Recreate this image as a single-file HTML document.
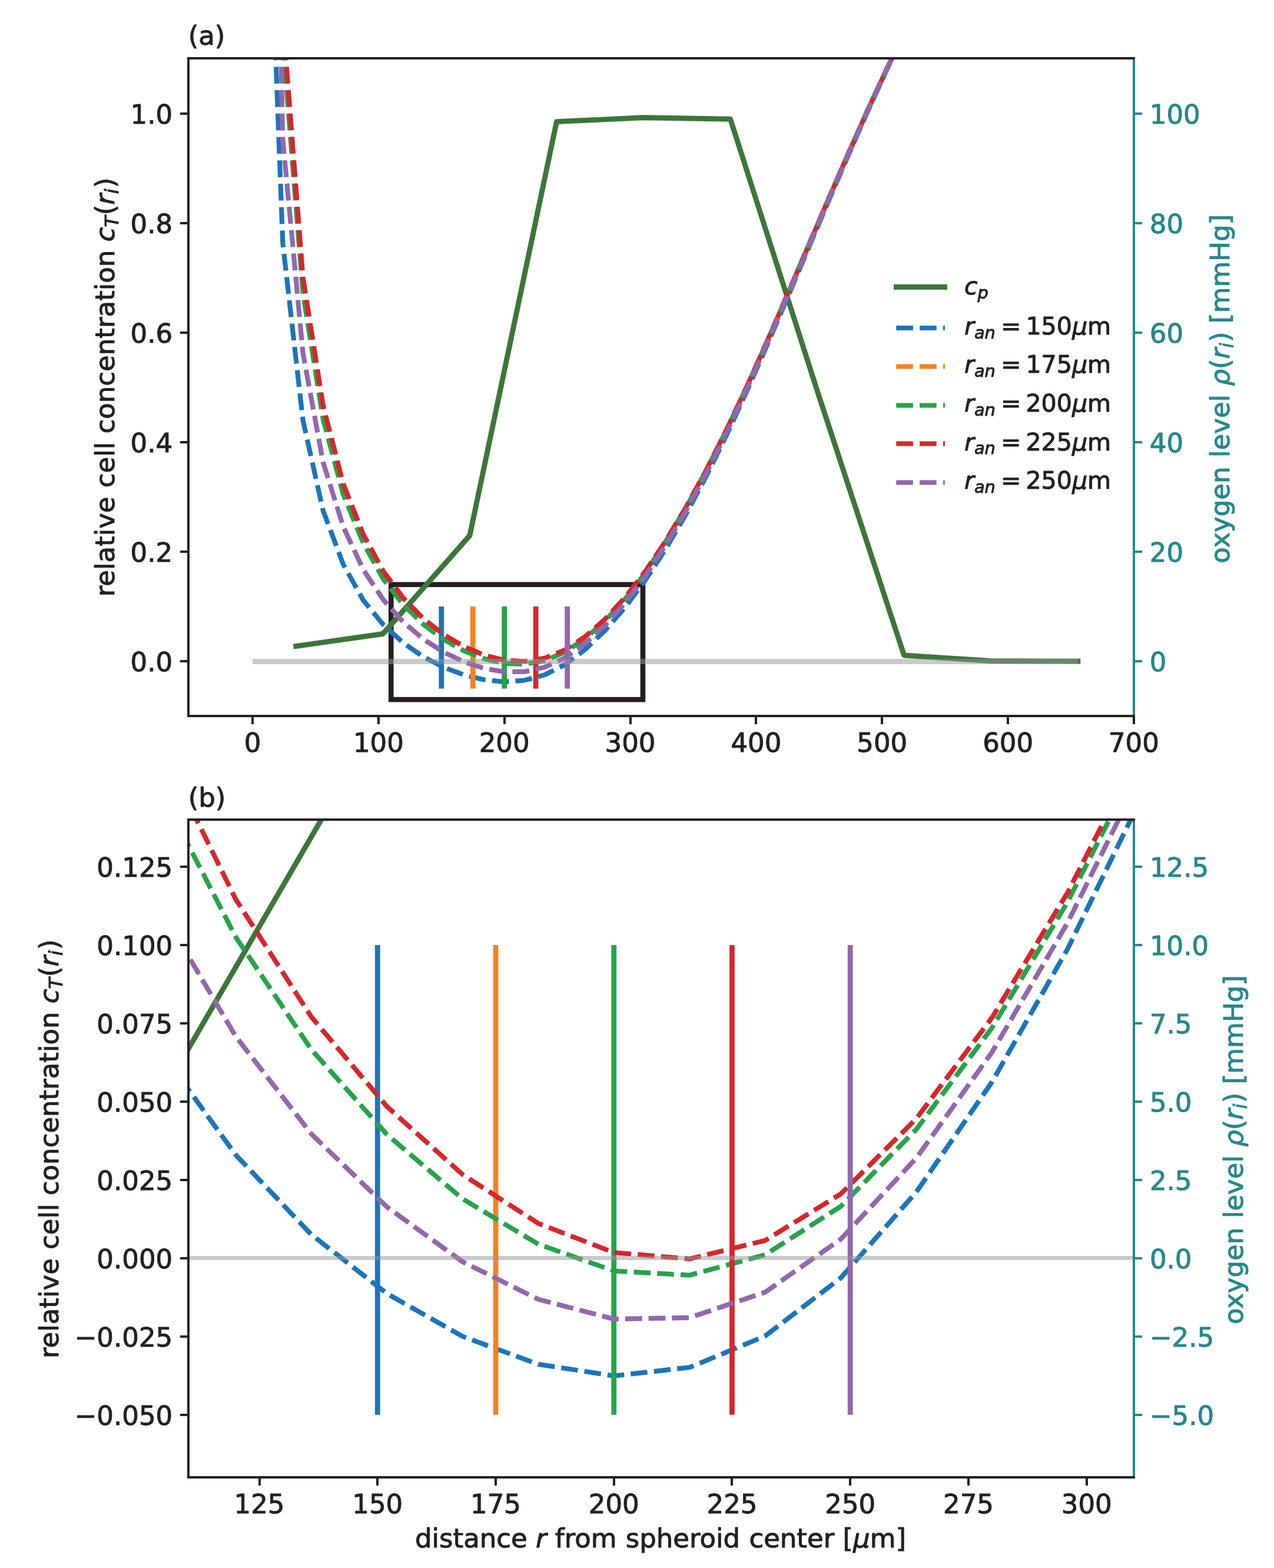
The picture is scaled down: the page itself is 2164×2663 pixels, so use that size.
<!DOCTYPE html>
<html lang="en"><head><meta charset="utf-8"><title>Oxygen level and cell concentration in a spheroid</title>
<style>html,body{margin:0;padding:0;background:#fff}body{width:2164px;height:2663px;overflow:hidden}svg{display:block}text{font-family:"DejaVu Sans","Liberation Sans",sans-serif;white-space:pre;stroke-width:1;stroke-linejoin:round}</style></head><body>
<svg width="2164" height="2663" viewBox="0 0 2164 2663" role="img" aria-label="Oxygen level and relative cell concentration versus distance from spheroid center">
<rect width="2164" height="2663" fill="#ffffff"/>
<clipPath id="clipa"><rect x="320.1" y="98.9" width="1605.85" height="1117.1"/></clipPath>
<g clip-path="url(#clipa)">
<rect x="664.24" y="992.8" width="427.7" height="195.3" fill="none" stroke="#231f20" stroke-width="8.6" stroke-linejoin="miter"/>
<path d="M502.78 1097.42 L650.33 1076.5 L797.89 909.57 L945.45 206.67 L1093 199.7 L1240.56 202.21 L1388.12 663.58 L1535.67 1112.96 L1683.23 1122.54 L1830.79 1123" fill="none" stroke="#3c763a" stroke-width="8.9" stroke-linecap="square" stroke-linejoin="round"/>
<path d="M464.49 -4.5 L480.32 412.65 L514.54 713.6 L548.76 867.12 L582.97 958.3 L617.19 1019.7 L651.4 1061.28 L685.62 1092.32 L719.84 1116 L754.05 1133.52 L788.27 1146.24 L822.48 1154.51 L856.7 1157.96 L890.92 1155.44 L925.13 1146.12 L959.35 1128.85 L993.56 1103.31 L1027.78 1070.65 L1062 1031.11 L1096.21 985.06 L1130.43 932.72 L1164.64 874.23 L1198.86 810.15 L1233.08 741.05 L1267.29 667.11 L1301.51 589.64 L1335.72 510.04 L1369.94 429.41 L1404.16 348.96 L1438.37 269.54 L1472.59 192.07 L1506.8 117.3 L1541.02 46.15 L1566.9 -4.5" fill="none" stroke="#1b75bb" stroke-width="8.15" stroke-linecap="butt" stroke-linejoin="round" stroke-dasharray="28.55 11.2" stroke-dashoffset="1.19"/>
<line x1="749.78" y1="1030" x2="749.78" y2="1169.5" stroke="#1b75bb" stroke-width="8.8" stroke-linecap="butt"/>
<path d="M475.09 -4.5 L480.32 236.37 L514.54 599.5 L548.76 784.89 L582.97 894.4 L617.19 967.62 L651.4 1019.08 L685.62 1057.13 L719.84 1086.11 L754.05 1107.81 L788.27 1124.07 L822.48 1135.21 L856.7 1141.08 L890.92 1140.67 L925.13 1133.11 L959.35 1117.35 L993.56 1093.25 L1027.78 1061.81 L1062 1023.32 L1096.21 977.96 L1130.43 926.21 L1164.64 868.55 L1198.86 805.22 L1233.08 736.68 L1267.29 663.39 L1301.51 586.48 L1335.72 507.25 L1369.94 427.17 L1404.16 347.1 L1438.37 268.05 L1472.59 190.95 L1506.8 116.55 L1541.02 45.78 L1566.82 -4.5" fill="none" stroke="#f58220" stroke-width="6.95" stroke-linecap="butt" stroke-linejoin="round" stroke-dasharray="28.55 11.2" stroke-dashoffset="1.26"/>
<line x1="803.24" y1="1030" x2="803.24" y2="1169.5" stroke="#f58220" stroke-width="8.8" stroke-linecap="butt"/>
<path d="M477.43 -4.5 L480.32 69.84 L514.54 497.68 L548.76 711.65 L582.97 839.51 L617.19 922.51 L651.4 984.01 L685.62 1027.65 L719.84 1061.06 L754.05 1086.3 L788.27 1105.39 L822.48 1118.83 L856.7 1126.79 L890.92 1128.06 L925.13 1121.98 L959.35 1107.61 L993.56 1084.72 L1027.78 1054.57 L1062 1017.16 L1096.21 972.82 L1130.43 920.26 L1164.64 863.16 L1198.86 800.38 L1233.08 732.4 L1267.29 659.49 L1301.51 583.04 L1335.72 504.27 L1369.94 424.48 L1404.16 344.78 L1438.37 266.1 L1472.59 189.28 L1506.8 115.16 L1541.02 44.66 L1566.32 -4.5" fill="none" stroke="#26a349" stroke-width="8.15" stroke-linecap="butt" stroke-linejoin="round" stroke-dasharray="28.55 11.2" stroke-dashoffset="0.98"/>
<line x1="856.7" y1="1030" x2="856.7" y2="1169.5" stroke="#26a349" stroke-width="8.8" stroke-linecap="butt"/>
<path d="M479.85 -4.5 L480.32 31.31 L514.54 470.53 L548.76 688.53 L582.97 821.4 L617.19 907.65 L651.4 970.64 L685.62 1016.42 L719.84 1051.34 L754.05 1077.98 L788.27 1098.17 L822.48 1112.67 L856.7 1121.33 L890.92 1123.22 L925.13 1117.74 L959.35 1103.92 L993.56 1081.52 L1027.78 1051.52 L1062 1014.37 L1096.21 970.32 L1130.43 919.05 L1164.64 862.23 L1198.86 799.73 L1233.08 731.93 L1267.29 659.3 L1301.51 583.04 L1335.72 504.46 L1369.94 424.85 L1404.16 345.33 L1438.37 266.75 L1472.59 190.12 L1506.8 116.18 L1541.02 45.78 L1566.93 -4.5" fill="none" stroke="#d7262c" stroke-width="8.15" stroke-linecap="butt" stroke-linejoin="round" stroke-dasharray="28.55 11.2" stroke-dashoffset="0.93"/>
<line x1="910.16" y1="1030" x2="910.16" y2="1169.5" stroke="#d7262c" stroke-width="8.8" stroke-linecap="butt"/>
<path d="M475.09 -4.5 L480.32 236.37 L514.54 599.5 L548.76 784.89 L582.97 894.4 L617.19 967.62 L651.4 1019.08 L685.62 1057.13 L719.84 1086.11 L754.05 1107.81 L788.27 1124.07 L822.48 1135.21 L856.7 1141.08 L890.92 1140.67 L925.13 1133.11 L959.35 1117.35 L993.56 1093.25 L1027.78 1061.81 L1062 1023.32 L1096.21 977.96 L1130.43 926.21 L1164.64 868.55 L1198.86 805.22 L1233.08 736.68 L1267.29 663.39 L1301.51 586.48 L1335.72 507.25 L1369.94 427.17 L1404.16 347.1 L1438.37 268.05 L1472.59 190.95 L1506.8 116.55 L1541.02 45.78 L1566.82 -4.5" fill="none" stroke="#9267ae" stroke-width="8.15" stroke-linecap="butt" stroke-linejoin="round" stroke-dasharray="28.55 11.2" stroke-dashoffset="1.26"/>
<line x1="963.62" y1="1030" x2="963.62" y2="1169.5" stroke="#9267ae" stroke-width="8.8" stroke-linecap="butt"/>
<line x1="429" y1="1123.5" x2="1830.79" y2="1123.5" stroke="#939598" stroke-width="9" stroke-linecap="butt" stroke-opacity="0.5"/>
</g>
<line x1="429" y1="1216" x2="429" y2="1230" stroke="#231f20" stroke-width="4" stroke-linecap="butt"/>
<text x="429" y="1277.2" font-size="45" text-anchor="middle" fill="#231f20" stroke="#231f20">0</text>
<line x1="643" y1="1216" x2="643" y2="1230" stroke="#231f20" stroke-width="4" stroke-linecap="butt"/>
<text x="642.85" y="1277.2" font-size="45" text-anchor="middle" fill="#231f20" stroke="#231f20">100</text>
<line x1="857" y1="1216" x2="857" y2="1230" stroke="#231f20" stroke-width="4" stroke-linecap="butt"/>
<text x="856.7" y="1277.2" font-size="45" text-anchor="middle" fill="#231f20" stroke="#231f20">200</text>
<line x1="1071" y1="1216" x2="1071" y2="1230" stroke="#231f20" stroke-width="4" stroke-linecap="butt"/>
<text x="1070.55" y="1277.2" font-size="45" text-anchor="middle" fill="#231f20" stroke="#231f20">300</text>
<line x1="1284" y1="1216" x2="1284" y2="1230" stroke="#231f20" stroke-width="4" stroke-linecap="butt"/>
<text x="1284.4" y="1277.2" font-size="45" text-anchor="middle" fill="#231f20" stroke="#231f20">400</text>
<line x1="1498" y1="1216" x2="1498" y2="1230" stroke="#231f20" stroke-width="4" stroke-linecap="butt"/>
<text x="1498.25" y="1277.2" font-size="45" text-anchor="middle" fill="#231f20" stroke="#231f20">500</text>
<line x1="1712" y1="1216" x2="1712" y2="1230" stroke="#231f20" stroke-width="4" stroke-linecap="butt"/>
<text x="1712.1" y="1277.2" font-size="45" text-anchor="middle" fill="#231f20" stroke="#231f20">600</text>
<line x1="1926" y1="1216" x2="1926" y2="1230" stroke="#231f20" stroke-width="4" stroke-linecap="butt"/>
<text x="1925.95" y="1277.2" font-size="45" text-anchor="middle" fill="#231f20" stroke="#231f20">700</text>
<line x1="320" y1="1123" x2="306" y2="1123" stroke="#231f20" stroke-width="4" stroke-linecap="butt"/>
<text x="293.2" y="1140.3" font-size="45" text-anchor="end" fill="#231f20" stroke="#231f20">0.0</text>
<line x1="320" y1="937" x2="306" y2="937" stroke="#231f20" stroke-width="4" stroke-linecap="butt"/>
<text x="293.2" y="954.3" font-size="45" text-anchor="end" fill="#231f20" stroke="#231f20">0.2</text>
<line x1="320" y1="751" x2="306" y2="751" stroke="#231f20" stroke-width="4" stroke-linecap="butt"/>
<text x="293.2" y="768.3" font-size="45" text-anchor="end" fill="#231f20" stroke="#231f20">0.4</text>
<line x1="320" y1="565" x2="306" y2="565" stroke="#231f20" stroke-width="4" stroke-linecap="butt"/>
<text x="293.2" y="582.3" font-size="45" text-anchor="end" fill="#231f20" stroke="#231f20">0.6</text>
<line x1="320" y1="379" x2="306" y2="379" stroke="#231f20" stroke-width="4" stroke-linecap="butt"/>
<text x="293.2" y="396.3" font-size="45" text-anchor="end" fill="#231f20" stroke="#231f20">0.8</text>
<line x1="320" y1="193" x2="306" y2="193" stroke="#231f20" stroke-width="4" stroke-linecap="butt"/>
<text x="293.2" y="210.3" font-size="45" text-anchor="end" fill="#231f20" stroke="#231f20">1.0</text>
<line x1="1926" y1="1123" x2="1940" y2="1123" stroke="#26878b" stroke-width="4" stroke-linecap="butt"/>
<text x="1952.85" y="1140.3" font-size="45" text-anchor="start" fill="#26878b" stroke="#26878b">0</text>
<line x1="1926" y1="937" x2="1940" y2="937" stroke="#26878b" stroke-width="4" stroke-linecap="butt"/>
<text x="1952.85" y="954.3" font-size="45" text-anchor="start" fill="#26878b" stroke="#26878b">20</text>
<line x1="1926" y1="751" x2="1940" y2="751" stroke="#26878b" stroke-width="4" stroke-linecap="butt"/>
<text x="1952.85" y="768.3" font-size="45" text-anchor="start" fill="#26878b" stroke="#26878b">40</text>
<line x1="1926" y1="565" x2="1940" y2="565" stroke="#26878b" stroke-width="4" stroke-linecap="butt"/>
<text x="1952.85" y="582.3" font-size="45" text-anchor="start" fill="#26878b" stroke="#26878b">60</text>
<line x1="1926" y1="379" x2="1940" y2="379" stroke="#26878b" stroke-width="4" stroke-linecap="butt"/>
<text x="1952.85" y="396.3" font-size="45" text-anchor="start" fill="#26878b" stroke="#26878b">80</text>
<line x1="1926" y1="193" x2="1940" y2="193" stroke="#26878b" stroke-width="4" stroke-linecap="butt"/>
<text x="1952.85" y="210.3" font-size="45" text-anchor="start" fill="#26878b" stroke="#26878b">100</text>
<line x1="320" y1="1218" x2="320" y2="97" stroke="#231f20" stroke-width="4" stroke-linecap="butt"/>
<line x1="1926" y1="1218" x2="1926" y2="97" stroke="#26878b" stroke-width="4" stroke-linecap="butt"/>
<line x1="318" y1="1216" x2="1928" y2="1216" stroke="#231f20" stroke-width="4" stroke-linecap="butt"/>
<line x1="318" y1="99" x2="1928" y2="99" stroke="#231f20" stroke-width="4" stroke-linecap="butt"/>
<clipPath id="clipb"><rect x="320.1" y="1392.2" width="1605.9" height="1116.9"/></clipPath>
<g clip-path="url(#clipb)">
<path d="M-286.13 1990.54 L267.91 1870.87 L821.94 916.18 L1375.98 -3103.62 L1930.01 -3143.51 L2484.05 -3129.15 L3038.09 -490.59 L3592.12 2079.36 L4146.16 2134.14 L4700.19 2136.8" fill="none" stroke="#3c763a" stroke-width="8.9" stroke-linecap="square" stroke-linejoin="round"/>
<path d="M-1 1130.02 L14.98 1194.87 L143.45 1546.02 L271.92 1783.85 L400.4 1961.35 L528.87 2096.79 L657.34 2196.98 L785.81 2269.7 L914.28 2317 L1042.76 2336.71 L1171.23 2322.31 L1299.7 2269.02 L1428.17 2170.27 L1556.64 2024.21 L1685.12 1837.39 L1813.59 1611.3 L1942.06 1347.91 L2070.53 1048.61 L2170 789.6" fill="none" stroke="#1b75bb" stroke-width="8.15" stroke-linecap="butt" stroke-linejoin="round" stroke-dasharray="28.55 11.2" stroke-dashoffset="26.06"/>
<line x1="641.28" y1="1604.94" x2="641.28" y2="2402.73" stroke="#1b75bb" stroke-width="8.8" stroke-linecap="butt"/>
<path d="M-1 751.58 L14.98 829.47 L143.45 1248.21 L271.92 1542.5 L400.4 1760.11 L528.87 1925.81 L657.34 2049.91 L785.81 2142.91 L914.28 2206.62 L1042.76 2240.2 L1171.23 2237.85 L1299.7 2194.61 L1428.17 2104.47 L1556.64 1966.64 L1685.12 1786.88 L1813.59 1566.76 L1942.06 1307.3 L2070.53 1011.38 L2170 756.07" fill="none" stroke="#f58220" stroke-width="6.95" stroke-linecap="butt" stroke-linejoin="round" stroke-dasharray="28.55 11.2" stroke-dashoffset="14.11"/>
<line x1="842.02" y1="1604.94" x2="842.02" y2="2402.73" stroke="#f58220" stroke-width="8.8" stroke-linecap="butt"/>
<path d="M-1 424.61 L14.98 515.56 L143.45 990.24 L271.92 1341.91 L400.4 1591.48 L528.87 1782.55 L657.34 1926.9 L785.81 2036.1 L914.28 2112.97 L1042.76 2158.46 L1171.23 2165.72 L1299.7 2130.97 L1428.17 2048.78 L1556.64 1917.9 L1685.12 1745.43 L1813.59 1531.49 L1942.06 1277.96 L2070.53 977.35 L2170 724.51" fill="none" stroke="#26a349" stroke-width="8.15" stroke-linecap="butt" stroke-linejoin="round" stroke-dasharray="28.55 11.2" stroke-dashoffset="35.09"/>
<line x1="1042.76" y1="1604.94" x2="1042.76" y2="2402.73" stroke="#26a349" stroke-width="8.8" stroke-linecap="butt"/>
<path d="M-1 317.46 L14.98 411.97 L143.45 905.25 L271.92 1265.48 L400.4 1527.27 L528.87 1727 L657.34 1879.32 L785.81 1994.8 L914.28 2077.75 L1042.76 2127.22 L1171.23 2138.03 L1299.7 2106.7 L1428.17 2027.68 L1556.64 1899.57 L1685.12 1728.02 L1813.59 1515.58 L1942.06 1263.64 L2070.53 970.43 L2170 718.83" fill="none" stroke="#d7262c" stroke-width="8.15" stroke-linecap="butt" stroke-linejoin="round" stroke-dasharray="28.55 11.2" stroke-dashoffset="5.63"/>
<line x1="1243.49" y1="1604.94" x2="1243.49" y2="2402.73" stroke="#d7262c" stroke-width="8.8" stroke-linecap="butt"/>
<path d="M-1 751.58 L14.98 829.47 L143.45 1248.21 L271.92 1542.5 L400.4 1760.11 L528.87 1925.81 L657.34 2049.91 L785.81 2142.91 L914.28 2206.62 L1042.76 2240.2 L1171.23 2237.85 L1299.7 2194.61 L1428.17 2104.47 L1556.64 1966.64 L1685.12 1786.88 L1813.59 1566.76 L1942.06 1307.3 L2070.53 1011.38 L2170 756.07" fill="none" stroke="#9267ae" stroke-width="8.15" stroke-linecap="butt" stroke-linejoin="round" stroke-dasharray="28.55 11.2" stroke-dashoffset="14.11"/>
<line x1="1444.23" y1="1604.94" x2="1444.23" y2="2402.73" stroke="#9267ae" stroke-width="8.8" stroke-linecap="butt"/>
<line x1="300.1" y1="2136.5" x2="1946" y2="2136.5" stroke="#939598" stroke-width="7" stroke-linecap="butt" stroke-opacity="0.5"/>
</g>
<line x1="441" y1="2509" x2="441" y2="2523" stroke="#231f20" stroke-width="4" stroke-linecap="butt"/>
<text x="440.54" y="2570.3" font-size="45" text-anchor="middle" fill="#231f20" stroke="#231f20">125</text>
<line x1="641" y1="2509" x2="641" y2="2523" stroke="#231f20" stroke-width="4" stroke-linecap="butt"/>
<text x="641.28" y="2570.3" font-size="45" text-anchor="middle" fill="#231f20" stroke="#231f20">150</text>
<line x1="842" y1="2509" x2="842" y2="2523" stroke="#231f20" stroke-width="4" stroke-linecap="butt"/>
<text x="842.02" y="2570.3" font-size="45" text-anchor="middle" fill="#231f20" stroke="#231f20">175</text>
<line x1="1043" y1="2509" x2="1043" y2="2523" stroke="#231f20" stroke-width="4" stroke-linecap="butt"/>
<text x="1042.76" y="2570.3" font-size="45" text-anchor="middle" fill="#231f20" stroke="#231f20">200</text>
<line x1="1243" y1="2509" x2="1243" y2="2523" stroke="#231f20" stroke-width="4" stroke-linecap="butt"/>
<text x="1243.49" y="2570.3" font-size="45" text-anchor="middle" fill="#231f20" stroke="#231f20">225</text>
<line x1="1444" y1="2509" x2="1444" y2="2523" stroke="#231f20" stroke-width="4" stroke-linecap="butt"/>
<text x="1444.23" y="2570.3" font-size="45" text-anchor="middle" fill="#231f20" stroke="#231f20">250</text>
<line x1="1645" y1="2509" x2="1645" y2="2523" stroke="#231f20" stroke-width="4" stroke-linecap="butt"/>
<text x="1644.97" y="2570.3" font-size="45" text-anchor="middle" fill="#231f20" stroke="#231f20">275</text>
<line x1="1846" y1="2509" x2="1846" y2="2523" stroke="#231f20" stroke-width="4" stroke-linecap="butt"/>
<text x="1845.71" y="2570.3" font-size="45" text-anchor="middle" fill="#231f20" stroke="#231f20">300</text>
<line x1="320" y1="2403" x2="306" y2="2403" stroke="#231f20" stroke-width="4" stroke-linecap="butt"/>
<text x="293.2" y="2420.03" font-size="45" text-anchor="end" fill="#231f20" stroke="#231f20">−0.050</text>
<line x1="320" y1="2270" x2="306" y2="2270" stroke="#231f20" stroke-width="4" stroke-linecap="butt"/>
<text x="293.2" y="2287.07" font-size="45" text-anchor="end" fill="#231f20" stroke="#231f20">−0.025</text>
<line x1="320" y1="2137" x2="306" y2="2137" stroke="#231f20" stroke-width="4" stroke-linecap="butt"/>
<text x="293.2" y="2154.1" font-size="45" text-anchor="end" fill="#231f20" stroke="#231f20">0.000</text>
<line x1="320" y1="2004" x2="306" y2="2004" stroke="#231f20" stroke-width="4" stroke-linecap="butt"/>
<text x="293.2" y="2021.14" font-size="45" text-anchor="end" fill="#231f20" stroke="#231f20">0.025</text>
<line x1="320" y1="1871" x2="306" y2="1871" stroke="#231f20" stroke-width="4" stroke-linecap="butt"/>
<text x="293.2" y="1888.17" font-size="45" text-anchor="end" fill="#231f20" stroke="#231f20">0.050</text>
<line x1="320" y1="1738" x2="306" y2="1738" stroke="#231f20" stroke-width="4" stroke-linecap="butt"/>
<text x="293.2" y="1755.21" font-size="45" text-anchor="end" fill="#231f20" stroke="#231f20">0.075</text>
<line x1="320" y1="1605" x2="306" y2="1605" stroke="#231f20" stroke-width="4" stroke-linecap="butt"/>
<text x="293.2" y="1622.24" font-size="45" text-anchor="end" fill="#231f20" stroke="#231f20">0.100</text>
<line x1="320" y1="1472" x2="306" y2="1472" stroke="#231f20" stroke-width="4" stroke-linecap="butt"/>
<text x="293.2" y="1489.28" font-size="45" text-anchor="end" fill="#231f20" stroke="#231f20">0.125</text>
<line x1="1926" y1="2403" x2="1940" y2="2403" stroke="#26878b" stroke-width="4" stroke-linecap="butt"/>
<text x="1952.9" y="2420.03" font-size="45" text-anchor="start" fill="#26878b" stroke="#26878b">−5.0</text>
<line x1="1926" y1="2270" x2="1940" y2="2270" stroke="#26878b" stroke-width="4" stroke-linecap="butt"/>
<text x="1952.9" y="2287.07" font-size="45" text-anchor="start" fill="#26878b" stroke="#26878b">−2.5</text>
<line x1="1926" y1="2137" x2="1940" y2="2137" stroke="#26878b" stroke-width="4" stroke-linecap="butt"/>
<text x="1952.9" y="2154.1" font-size="45" text-anchor="start" fill="#26878b" stroke="#26878b">0.0</text>
<line x1="1926" y1="2004" x2="1940" y2="2004" stroke="#26878b" stroke-width="4" stroke-linecap="butt"/>
<text x="1952.9" y="2021.14" font-size="45" text-anchor="start" fill="#26878b" stroke="#26878b">2.5</text>
<line x1="1926" y1="1871" x2="1940" y2="1871" stroke="#26878b" stroke-width="4" stroke-linecap="butt"/>
<text x="1952.9" y="1888.17" font-size="45" text-anchor="start" fill="#26878b" stroke="#26878b">5.0</text>
<line x1="1926" y1="1738" x2="1940" y2="1738" stroke="#26878b" stroke-width="4" stroke-linecap="butt"/>
<text x="1952.9" y="1755.21" font-size="45" text-anchor="start" fill="#26878b" stroke="#26878b">7.5</text>
<line x1="1926" y1="1605" x2="1940" y2="1605" stroke="#26878b" stroke-width="4" stroke-linecap="butt"/>
<text x="1952.9" y="1622.24" font-size="45" text-anchor="start" fill="#26878b" stroke="#26878b">10.0</text>
<line x1="1926" y1="1472" x2="1940" y2="1472" stroke="#26878b" stroke-width="4" stroke-linecap="butt"/>
<text x="1952.9" y="1489.28" font-size="45" text-anchor="start" fill="#26878b" stroke="#26878b">12.5</text>
<line x1="320" y1="2511" x2="320" y2="1390" stroke="#231f20" stroke-width="4" stroke-linecap="butt"/>
<line x1="1926" y1="2511" x2="1926" y2="1390" stroke="#26878b" stroke-width="4" stroke-linecap="butt"/>
<line x1="318" y1="2509" x2="1928" y2="2509" stroke="#231f20" stroke-width="4" stroke-linecap="butt"/>
<line x1="318" y1="1392" x2="1928" y2="1392" stroke="#231f20" stroke-width="4" stroke-linecap="butt"/>
<text x="319.7" y="76.3" font-size="45" text-anchor="start" fill="#231f20" stroke="#231f20">(a)</text>
<text x="319.7" y="1369.6" font-size="45" text-anchor="start" fill="#231f20" stroke="#231f20">(b)</text>
<text transform="translate(194 657.45) rotate(-90)" fill="#231f20" stroke="#231f20" xml:space="preserve"><tspan x="-355.77" y="-0" font-size="45">relative </tspan><tspan x="-170.74" y="-0" font-size="45">cell </tspan><tspan x="-79" y="-0" font-size="45">concentration </tspan><tspan x="246.96" y="-0" font-size="45" font-style="italic">c</tspan><tspan x="271.7" y="7.38" font-size="31.5" font-style="italic">T</tspan><tspan x="292.17" y="-0" font-size="45">(</tspan><tspan x="309.73" y="-0" font-size="45" font-style="italic">r</tspan><tspan x="328.23" y="7.38" font-size="31.5" font-style="italic">i</tspan><tspan x="338.21" y="-0" font-size="45">)</tspan></text>
<text transform="translate(98.5 1951.15) rotate(-90)" fill="#231f20" stroke="#231f20" xml:space="preserve"><tspan x="-355.77" y="-0" font-size="45">relative </tspan><tspan x="-170.74" y="-0" font-size="45">cell </tspan><tspan x="-79" y="-0" font-size="45">concentration </tspan><tspan x="246.96" y="-0" font-size="45" font-style="italic">c</tspan><tspan x="271.7" y="7.38" font-size="31.5" font-style="italic">T</tspan><tspan x="292.17" y="-0" font-size="45">(</tspan><tspan x="309.73" y="-0" font-size="45" font-style="italic">r</tspan><tspan x="328.23" y="7.38" font-size="31.5" font-style="italic">i</tspan><tspan x="338.21" y="-0" font-size="45">)</tspan></text>
<text transform="translate(2087.6 660.35) rotate(-90)" fill="#26878b" stroke="#26878b" xml:space="preserve"><tspan x="-296.41" y="-0" font-size="45">oxygen </tspan><tspan x="-116.55" y="-0" font-size="45">level </tspan><tspan x="4.76" y="-0" font-size="45" font-style="italic">ρ</tspan><tspan x="33.33" y="-0" font-size="45">(</tspan><tspan x="50.89" y="-0" font-size="45" font-style="italic">r</tspan><tspan x="69.39" y="7.38" font-size="31.5" font-style="italic">i</tspan><tspan x="79.37" y="-0" font-size="45">) </tspan><tspan x="111.23" y="-0" font-size="45">[mmHg]</tspan></text>
<text transform="translate(2110.9 1952.55) rotate(-90)" fill="#26878b" stroke="#26878b" xml:space="preserve"><tspan x="-296.41" y="-0" font-size="45">oxygen </tspan><tspan x="-116.55" y="-0" font-size="45">level </tspan><tspan x="4.76" y="-0" font-size="45" font-style="italic">ρ</tspan><tspan x="33.33" y="-0" font-size="45">(</tspan><tspan x="50.89" y="-0" font-size="45" font-style="italic">r</tspan><tspan x="69.39" y="7.38" font-size="31.5" font-style="italic">i</tspan><tspan x="79.37" y="-0" font-size="45">) </tspan><tspan x="111.23" y="-0" font-size="45">[mmHg]</tspan></text>
<text transform="translate(1122.05 2627.5)" fill="#231f20" stroke="#231f20" xml:space="preserve"><tspan x="-417.04" y="-0" font-size="45">distance </tspan><tspan x="-212.06" y="-0" font-size="45" font-style="italic">r </tspan><tspan x="-179.25" y="-0" font-size="45">from </tspan><tspan x="-59.24" y="-0" font-size="45">spheroid </tspan><tspan x="150.38" y="-0" font-size="45">center </tspan><tspan x="309.46" y="-0" font-size="45">[</tspan><tspan x="327.02" y="-0" font-size="45" font-style="italic">μ</tspan><tspan x="355.65" y="-0" font-size="45">m]</tspan></text>
<path d="M1518 487.5 L1609 487.5" fill="none" stroke="#3c763a" stroke-width="9" stroke-linecap="butt" stroke-linejoin="round"/>
<text transform="translate(1638 499.8)" fill="#231f20" stroke="#231f20" xml:space="preserve"><tspan x="0" y="-0" font-size="41.15" font-style="italic">c</tspan><tspan x="22.61" y="6.73" font-size="28.8" font-style="italic">p</tspan></text>
<path d="M1522 557 L1605 557" fill="none" stroke="#1b75bb" stroke-width="8" stroke-linecap="butt" stroke-linejoin="round" stroke-dasharray="28.6 11.2" stroke-dashoffset="-0.3"/>
<text transform="translate(1638 567.9)" fill="#231f20" stroke="#231f20" xml:space="preserve"><tspan x="0" y="-0" font-size="41.15" font-style="italic">r</tspan><tspan x="16.91" y="6.73" font-size="28.8" font-style="italic">an</tspan><tspan x="61.93" y="-0" font-size="41.15">=</tspan><tspan x="104.4" y="-0" font-size="41.15">150</tspan><tspan x="182.89" y="-0" font-size="41.15" font-style="italic">μ</tspan><tspan x="209.06" y="-0" font-size="41.15">m</tspan></text>
<path d="M1522 622.5 L1605 622.5" fill="none" stroke="#f58220" stroke-width="8" stroke-linecap="butt" stroke-linejoin="round" stroke-dasharray="28.6 11.2" stroke-dashoffset="-0.3"/>
<text transform="translate(1638 633.4)" fill="#231f20" stroke="#231f20" xml:space="preserve"><tspan x="0" y="-0" font-size="41.15" font-style="italic">r</tspan><tspan x="16.91" y="6.73" font-size="28.8" font-style="italic">an</tspan><tspan x="61.93" y="-0" font-size="41.15">=</tspan><tspan x="104.4" y="-0" font-size="41.15">175</tspan><tspan x="182.89" y="-0" font-size="41.15" font-style="italic">μ</tspan><tspan x="209.06" y="-0" font-size="41.15">m</tspan></text>
<path d="M1522 688.5 L1605 688.5" fill="none" stroke="#26a349" stroke-width="8" stroke-linecap="butt" stroke-linejoin="round" stroke-dasharray="28.6 11.2" stroke-dashoffset="-0.3"/>
<text transform="translate(1638 699.3)" fill="#231f20" stroke="#231f20" xml:space="preserve"><tspan x="0" y="-0" font-size="41.15" font-style="italic">r</tspan><tspan x="16.91" y="6.73" font-size="28.8" font-style="italic">an</tspan><tspan x="61.93" y="-0" font-size="41.15">=</tspan><tspan x="104.4" y="-0" font-size="41.15">200</tspan><tspan x="182.89" y="-0" font-size="41.15" font-style="italic">μ</tspan><tspan x="209.06" y="-0" font-size="41.15">m</tspan></text>
<path d="M1522 753.5 L1605 753.5" fill="none" stroke="#d7262c" stroke-width="8" stroke-linecap="butt" stroke-linejoin="round" stroke-dasharray="28.6 11.2" stroke-dashoffset="-0.3"/>
<text transform="translate(1638 764.6)" fill="#231f20" stroke="#231f20" xml:space="preserve"><tspan x="0" y="-0" font-size="41.15" font-style="italic">r</tspan><tspan x="16.91" y="6.73" font-size="28.8" font-style="italic">an</tspan><tspan x="61.93" y="-0" font-size="41.15">=</tspan><tspan x="104.4" y="-0" font-size="41.15">225</tspan><tspan x="182.89" y="-0" font-size="41.15" font-style="italic">μ</tspan><tspan x="209.06" y="-0" font-size="41.15">m</tspan></text>
<path d="M1522 819.5 L1605 819.5" fill="none" stroke="#9267ae" stroke-width="8" stroke-linecap="butt" stroke-linejoin="round" stroke-dasharray="28.6 11.2" stroke-dashoffset="-0.3"/>
<text transform="translate(1638 830.2)" fill="#231f20" stroke="#231f20" xml:space="preserve"><tspan x="0" y="-0" font-size="41.15" font-style="italic">r</tspan><tspan x="16.91" y="6.73" font-size="28.8" font-style="italic">an</tspan><tspan x="61.93" y="-0" font-size="41.15">=</tspan><tspan x="104.4" y="-0" font-size="41.15">250</tspan><tspan x="182.89" y="-0" font-size="41.15" font-style="italic">μ</tspan><tspan x="209.06" y="-0" font-size="41.15">m</tspan></text>
</svg></body></html>
